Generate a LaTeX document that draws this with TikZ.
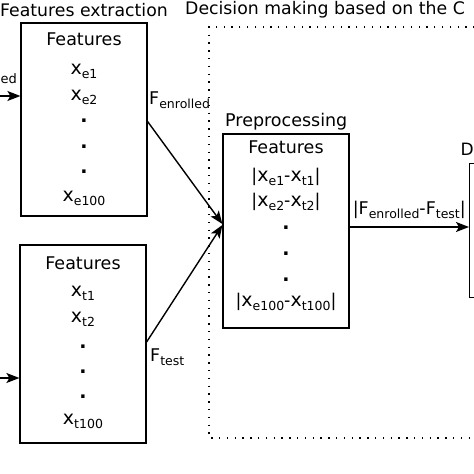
\documentclass[tikz,border=0pt]{standalone}
\usepackage{fontspec}
\setmainfont{DejaVu Sans}
\usetikzlibrary{arrows.meta}
\newcommand{\sbs}[1]{\raisebox{-4pt}{\fontsize{12.5}{12}\selectfont #1}}
\newcommand{\xv}{{\fontsize{19}{20}\selectfont x}}

\begin{document}
\begin{tikzpicture}[x=1pt,y=-1pt]
\tikzset{box/.style = {shape=rectangle,draw,line width=1.2pt,inner sep=0pt}}
\tikzset{txt/.style = {inner sep=0pt,font=\fontsize{17.5}{20}\selectfont}}
\tikzset{vdot/.style = {inner sep=0pt,font=\fontsize{19}{20}\selectfont\bfseries}}
\tikzset{title/.style = {inner sep=0pt,anchor=west,font=\fontsize{17.3}{20}\selectfont}}
\tikzset{edge/.style = {-{Stealth[length=13pt,width=10pt,inset=3pt]},line width=1.4pt}}
\tikzset{frame/.style = {line width=1.3pt,dash pattern=on 1.3pt off 6.5pt}}
\clip (0,0) rectangle (474,474);

%titles
\node[title] (ttlF) at (0,10) {Features extraction};
\node[title] (ttlD) at (185,10) {Decision making based on the C};
\draw[frame] (490,27) -- (209,27) -- (209,438) -- (490,438);

% ----- enrolled features
\node[box,minimum width=126,minimum height=193] (enr) at (84,119.5) {};
\node[txt] (enrH) at (84,39) {Features};
\node[txt] (enr1) at (84,71) {\xv\sbs{e1}};
\node[txt] (enr2) at (84,97) {\xv\sbs{e2}};
\foreach \y in {121,147,172} \node[vdot] at (84,\y) {.};
\node[txt] (enrN) at (84,198) {\xv\sbs{e100}};
\node[inner sep=0pt,anchor=west,font=\fontsize{13}{13}\selectfont] (lblE) at (0.5,79) {ed};

% ----- test features
\node[box,minimum width=126,minimum height=198] (tst) at (83,344) {};
\node[txt] (tstH) at (83,263) {Features};
\node[txt] (tst1) at (83,293) {\xv\sbs{t1}};
\node[txt] (tst2) at (83,319) {\xv\sbs{t2}};
\foreach \y in {347,372,397} \node[vdot] at (83,\y) {.};
\node[txt] (tstN) at (83,421) {\xv\sbs{t100}};

% ----- preprocessing
\node[box,minimum width=126,minimum height=194] (pre) at (286,231) {};
\node[txt,anchor=south west] (preL) at (225,130) {Preprocessing};
\node[txt] (preH) at (286,147) {Features};
\node[txt] (pre1) at (286,177) {|\xv\sbs{e1}-\xv\sbs{t1}|};
\node[txt] (pre2) at (286,202) {|\xv\sbs{e2}-\xv\sbs{t2}|};
\foreach \y in {228,254,280} \node[vdot] at (286,\y) {.};
\node[txt] (preN) at (286,302) {|\xv\sbs{e100}-\xv\sbs{t100}|};

% ----- decision
\node[box,minimum width=60,minimum height=134,anchor=north west] (dec) at (469,163) {};
\node[txt,anchor=south west,font=\fontsize{17}{20}\selectfont] (decL) at (460.5,156) {D};

%edges
\coordinate (inE) at (-5,96);
\coordinate (inT) at (-5,378);
\draw[edge] (inE) -- (inE -| enr.west);
\draw[edge] (inT) -- (inT -| tst.west);
\draw[edge] ([yshift=-2pt]enr.east) -- ([yshift=7pt]pre.west);
\draw[edge] ([yshift=2pt]tst.east) -- ([yshift=6pt]pre.west);
\draw[edge] ([yshift=4pt]pre.east) -- ([yshift=4pt]pre.east -| dec.west)
  node[midway,above=8pt,txt] {|F\sbs{enrolled}-F\sbs{test}|};
\node[txt,anchor=west] (lblFe) at (149,100) {F\sbs{enrolled}};
\node[txt,anchor=west] (lblFt) at (150,357) {F\sbs{test}};
\end{tikzpicture}
\end{document}
